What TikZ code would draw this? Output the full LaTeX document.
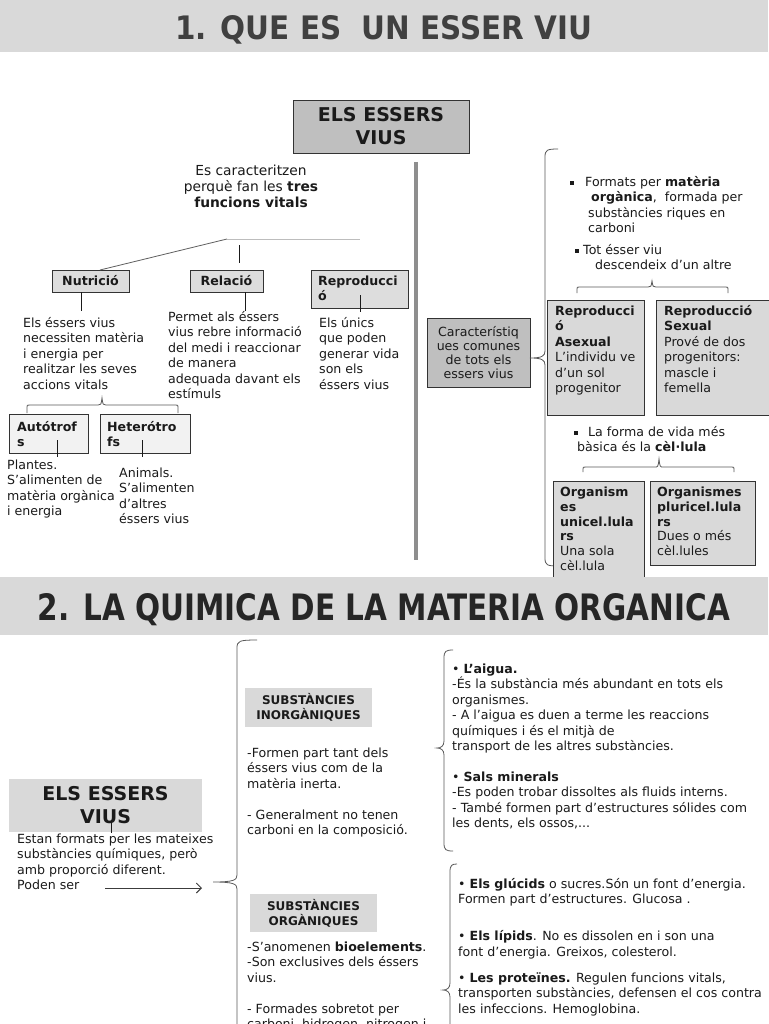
\documentclass[tikz,border=0pt]{standalone}
\usepackage{fontspec}
\setmainfont{DejaVu Sans}
\usetikzlibrary{arrows.meta}
\definecolor{bar}{HTML}{D9D9D9}
\definecolor{boxA}{HTML}{BFBFBF}
\definecolor{boxB}{HTML}{DDDDDD}
\definecolor{boxC}{HTML}{F2F2F2}
\definecolor{boxD}{HTML}{D9D9D9}
\definecolor{edge}{HTML}{333333}
\definecolor{ink}{HTML}{1A1A1A}
\definecolor{brcol}{HTML}{5A5A5A}
\definecolor{titleA}{HTML}{404040}
\definecolor{titleB}{HTML}{262626}
\definecolor{thick}{HTML}{8E8E8E}
\definecolor{lightline}{HTML}{BDBDBD}
\newcommand\myfs[2]{\fontsize{#1pt}{#2pt}\selectfont}
\newcommand\myfl{\rule{0pt}{0.8em}}
\newcommand\mysq{\rule[1.6pt]{3.8pt}{3.8pt}}
\newcommand\mybrace[6]{%
\draw[brc] (#6,#2) .. controls (#1+2,#2) and (#1,#2+1) .. (#1,#2+8) -- (#1,#3-7) .. controls (#1,#3-2) and (#1-3,#3) .. (#5,#3) .. controls (#1-3,#3) and (#1,#3+2) .. (#1,#3+7) -- (#1,#4-8) .. controls (#1,#4-1) and (#1+2,#4) .. (#6,#4);}
\newcommand\myhbrack[6]{%
\draw[brc] (#1,#6) -- (#1,#3+2) .. controls (#1,#3) .. (#1+3,#3) -- (#4-4,#3) .. controls (#4-1,#3) .. (#4,#5) .. controls (#4+1,#3) .. (#4+4,#3) -- (#2-3,#3) .. controls (#2,#3) .. (#2,#3+2) -- (#2,#6);}
\begin{document}
\begin{tikzpicture}[x=1pt,y=-1pt,
  every node/.style={inner sep=0pt, text=ink},
  txt/.style={anchor=north west, align=left, font=\myfs{12.6}{15.4}, yshift=6.7pt},
  btxt/.style={txt, font=\myfs{12.6}{15.4}\bfseries},
  box/.style={draw=edge, line width=0.9pt},
  brc/.style={draw=brcol, line width=0.8pt},
  tick/.style={draw=ink, line width=0.8pt}]
\useasboundingbox (0,0) rectangle (768,1024);
\fill[white] (0,0) rectangle (768,1024);
% ---------- section 1 ----------
\fill[bar] (0,0) rectangle (768,52);
\node[anchor=base, text=titleA] (t1) at (384,40) {\resizebox{417pt}{24pt}{\bfseries 1. QUE ES\ \ UN ESSER VIU}};

\node[box, fill=boxA, minimum width=176pt, minimum height=53pt, font=\myfs{19}{23}\bfseries, align=center] (els) at (381,126.5) {ELS ESSERS\\VIUS};
\draw[line width=4pt, draw=thick] (416,162) -- (416,560);

\node[anchor=north, align=center, font=\myfs{13.8}{15.6}, yshift=7.3pt] (fun) at (251,172) {\myfl Es caracteritzen\\perquè fan les \textbf{tres}\\\textbf{funcions vitals}};

\node[box, fill=boxB, minimum width=77pt, minimum height=22pt, font=\myfs{12.6}{15.4}\bfseries] (nutri) at (90.5,281) {Nutrició};
\node[box, fill=boxB, minimum width=73pt, minimum height=22pt, font=\myfs{12.6}{15.4}\bfseries] (rela) at (226.5,281) {Relació};
\node[box, fill=boxB, minimum width=97pt, minimum height=38pt] (repro) at (359.5,289) {};
\node[btxt] (reprot) at (318,282) {\myfl Reproducci\\ó};

\coordinate (d0) at (100,270);
\coordinate (j1) at (227,239);
\coordinate (j2) at (360,239);
\draw[line width=0.8pt, draw=ink!70] (d0) -- (j1);
\draw[line width=0.9pt, draw=lightline] (j1) -- (j2);
\draw[tick] (239,245) -- (239,263);
\draw[tick] (81,292) -- (81,311);
\draw[tick] (245,292) -- (245,311);
\draw[tick] (360,295) -- (360,312);

\node[txt] (tnutri) at (23,324) {\myfl Els éssers vius\\necessiten matèria\\i energia per\\realitzar les seves\\accions vitals};
\node[txt] (trela) at (168,318) {\myfl Permet als éssers\\vius rebre informació\\del medi i reaccionar\\de manera\\adequada davant els\\estímuls};
\node[txt] (trepro) at (319,324) {\myfl Els únics\\que poden\\generar vida\\son els\\éssers vius};

\myhbrack{27}{178}{405}{102}{398}{413}
\node[box, fill=boxC, minimum width=79pt, minimum height=39pt] (auto) at (48.5,433.5) {};
\node[btxt] (autot) at (17,428) {\myfl Autótrof\\s};
\node[box, fill=boxC, minimum width=90pt, minimum height=39pt] (hetero) at (145,433.5) {};
\node[btxt] (heterot) at (107,428) {\myfl Heterótro\\fs};
\draw[tick] (57,440) -- (57,457);
\draw[tick] (142,440) -- (142,457);
\node[txt] (tplan) at (7,466) {\myfl Plantes.\\S’alimenten de\\matèria orgànica\\i energia};
\node[txt] (tani) at (119,474) {\myfl Animals.\\S’alimenten\\d’altres\\éssers vius};

% right part
\node[box, fill=boxA, minimum width=103pt, minimum height=69pt, font=\myfs{12.6}{14.2}, align=center] (carac) at (478.5,352.5) {Característiq\\ues comunes\\de tots els\\essers vius};
\mybrace{545}{149}{358}{566}{530}{558}

\node[txt] (b1) at (588,183) {\myfl\hspace{-3pt}\llap{\mysq\hspace{11pt}}Formats per \textbf{matèria}\\\hspace{3pt}\textbf{orgànica},\ \ formada per\\substàncies riques en\\carboni};
\node[txt] (b2) at (583,251) {\myfl\llap{\mysq\hspace{4.5pt}}Tot ésser viu\\\hspace{12pt}descendeix d’un altre};
\myhbrack{577}{728}{287}{652}{281}{293}

\node[box, fill=boxD, minimum width=97pt, minimum height=115pt] (ra) at (595.5,357.5) {};
\node[txt] (rat) at (555,312) {\myfl\textbf{Reproducci}\\\textbf{ó}\\\textbf{Asexual}\\L’individu ve\\d’un sol\\progenitor};
\node[box, fill=boxD, minimum width=113pt, minimum height=115pt] (rs) at (712.5,357.5) {};
\node[txt] (rst) at (664,312) {\myfl\textbf{Reproducció}\\\textbf{Sexual}\\Prové de dos\\progenitors:\\mascle i\\femella};

\node[txt] (b3) at (588,433) {\myfl\llap{\mysq\hspace{10pt}}La forma de vida més\\\hspace{-11pt}bàsica és la \textbf{cèl·lula}};
\myhbrack{583}{734}{467}{659}{459}{472}

\node[box, fill=boxD, minimum width=91pt, minimum height=110pt] (o1) at (598.5,536) {};
\node[txt, font=\myfs{12.6}{14.8}] (o1t) at (560,493) {\myfl\textbf{Organism}\\\textbf{es}\\\textbf{unicel.lula}\\\textbf{rs}\\Una sola\\cèl.lula};
\node[box, fill=boxD, minimum width=105pt, minimum height=84pt] (o2) at (702.5,523) {};
\node[txt, font=\myfs{12.6}{14.8}] (o2t) at (657,493) {\myfl\textbf{Organismes}\\\textbf{pluricel.lula}\\\textbf{rs}\\Dues o més\\cèl.lules};

% ---------- section 2 ----------
\fill[bar] (0,577) rectangle (768,635);
\node[anchor=base, text=titleB] (t2) at (384,620) {\resizebox{692pt}{27pt}{\bfseries 2. LA QUIMICA DE LA MATERIA ORGANICA}};

\node[fill=bar, minimum width=193pt, minimum height=53pt, font=\myfs{19}{23}\bfseries, align=center] (els2) at (105.5,805.5) {ELS ESSERS\\VIUS};
\draw[tick] (111,820) -- (111,833);
\node[txt] (estan) at (17,840) {\myfl Estan formats per les mateixes\\substàncies químiques, però\\amb proporció diferent.\\Poden ser};
\coordinate (a1) at (105,888);
\coordinate (a2) at (202,888);
\draw[line width=0.9pt, draw=ink!85, -{Straight Barb[length=5pt,width=10pt]}] (a1) -- (a2);
\mybrace{237}{640}{882}{1060}{213}{257}

\node[fill=bar, minimum width=127pt, minimum height=39pt, font=\myfs{12}{15}\bfseries, align=center] (si) at (308.5,707.5) {SUBSTÀNCIES\\INORGÀNIQUES};
\node[txt] (sit) at (247,754) {\myfl -Formen part tant dels\\éssers vius com de la\\matèria inerta.\\\mbox{}\\- Generalment no tenen\\carboni en la composició.};
\node[fill=bar, minimum width=127pt, minimum height=38pt, font=\myfs{12}{15}\bfseries, align=center] (so) at (313.5,913) {SUBSTÀNCIES\\ORGÀNIQUES};
\node[txt] (sot) at (247,948) {\myfl -S’anomenen \textbf{bioelements}.\\-Son exclusives dels éssers\\vius.\\\mbox{}\\- Formades sobretot per\\carboni, hidrogen, nitrogen i};

\mybrace{444}{650}{748}{851}{437}{453}
\mybrace{450}{864}{990}{1060}{443}{457}

\node[txt] (aig) at (452,670) {\myfl • \textbf{L’aigua.}\\-És la substància més abundant en tots els\\organismes.\\- A l’aigua es duen a terme les reaccions\\químiques i és el mitjà de\\transport de les altres substàncies.\\\mbox{}\\• \textbf{Sals minerals}\\-Es poden trobar dissoltes als fluids interns.\\- També formen part d’estructures sólides com\\les dents, els ossos,...};
\node[txt] (glu) at (458,885) {\myfl • \textbf{Els glúcids} o sucres.Són un font d’energia.\\Formen part d’estructures. Glucosa .\\[21.6pt]• \textbf{Els lípids}. No es dissolen en i son una\\font d’energia. Greixos, colesterol.\\[10.6pt]• \textbf{Les proteïnes.} Regulen funcions vitals,\\transporten substàncies, defensen el cos contra\\les infeccions. Hemoglobina.};
\end{tikzpicture}
\end{document}
